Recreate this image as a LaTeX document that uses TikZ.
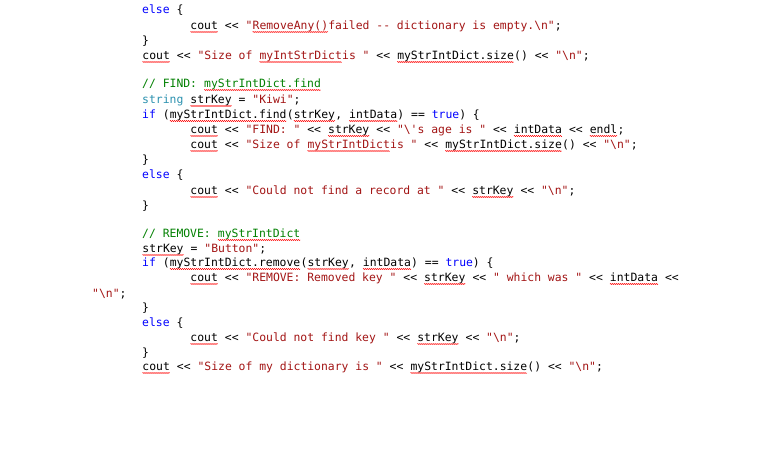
\documentclass[tikz,border=0pt]{standalone}
\usepackage{fontspec}
\setmonofont{DejaVu Sans Mono}
\usetikzlibrary{decorations.pathmorphing}
\definecolor{kwc}{RGB}{0,0,255}
\definecolor{stc}{RGB}{163,21,21}
\definecolor{cmc}{RGB}{0,128,0}
\definecolor{tyc}{RGB}{43,145,175}
\newcommand{\kw}[1]{\textcolor{kwc}{#1}}
\newcommand{\st}[1]{\textcolor{stc}{#1}}
\newcommand{\cm}[1]{\textcolor{cmc}{#1}}
\newcommand{\ty}[1]{\textcolor{tyc}{#1}}
\newcommand{\sq}[1]{\tikz[baseline=(s.base)]{\node[inner sep=0pt,outer sep=0pt](s){#1};\draw[red,line width=0.45pt,decorate,decoration={zigzag,amplitude=0.6pt,segment length=2pt}]([yshift=-3pt]s.base west)--([yshift=-3pt]s.base east);}}
\newcommand{\sqs}[1]{\sq{\st{#1}}}
\newcommand{\sqc}[1]{\sq{\cm{#1}}}
\newcommand{\bs}{\textbackslash}
\tikzset{ln/.style={anchor=base west,inner sep=0pt,font=\ttfamily\fontsize{11.4}{13}\selectfont}}
\begin{document}
\begin{tikzpicture}[x=1pt,y=-1pt]
\useasboundingbox[fill=white] (0,0) rectangle (762,450);
\node[ln] (l1) at (142,13) {\kw{else} \{};
\node[ln] (l2) at (190,29) {\sq{cout} << \st{"}\sqs{RemoveAny()}\st{ failed -- dictionary is empty.\bs n"};};
\node[ln] (l3) at (142,44) {\}};
\node[ln] (l4) at (142,59) {\sq{cout} << \st{"Size of }\sqs{myIntStrDict}\st{ is "} << \sq{myStrIntDict.size}() << \st{"\bs n"};};
\node[ln] (l5) at (142,87) {\cm{// FIND: }\sqc{myStrIntDict.find}};
\node[ln] (l6) at (142,103) {\ty{string} \sq{strKey} = \st{"Kiwi"};};
\node[ln] (l7) at (142,118) {\kw{if} (\sq{myStrIntDict.find}(\sq{strKey}, \sq{intData}) == \kw{true}) \{};
\node[ln] (l8) at (190,133) {\sq{cout} << \st{"FIND: "} << \sq{strKey} << \st{"\bs's age is "} << \sq{intData} << \sq{endl};};
\node[ln] (l9) at (190,148) {\sq{cout} << \st{"Size of }\sqs{myStrIntDict}\st{ is "} << \sq{myStrIntDict.size}() << \st{"\bs n"};};
\node[ln] (l10) at (142,163) {\}};
\node[ln] (l11) at (142,178) {\kw{else} \{};
\node[ln] (l12) at (190,194) {\sq{cout} << \st{"Could not find a record at "} << \sq{strKey} << \st{"\bs n"};};
\node[ln] (l13) at (142,209) {\}};
\node[ln] (l14) at (142,237) {\cm{// REMOVE: }\sqc{myStrIntDict}};
\node[ln] (l15) at (142,252) {\sq{strKey} = \st{"Button"};};
\node[ln] (l16) at (142,266) {\kw{if} (\sq{myStrIntDict.remove}(\sq{strKey}, \sq{intData}) == \kw{true}) \{};
\node[ln] (l17) at (190,281) {\sq{cout} << \st{"REMOVE: Removed key "} << \sq{strKey} << \st{" which was "} << \sq{intData} <<};
\node[ln] (l18) at (92,297) {\st{"\bs n"};};
\node[ln] (l19) at (142,311) {\}};
\node[ln] (l20) at (142,326) {\kw{else} \{};
\node[ln] (l21) at (190,341) {\sq{cout} << \st{"Could not find key "} << \sq{strKey} << \st{"\bs n"};};
\node[ln] (l22) at (142,356) {\}};
\node[ln] (l23) at (142,370) {\sq{cout} << \st{"Size of my dictionary is "} << \sq{myStrIntDict.size}() << \st{"\bs n"};};
\end{tikzpicture}
\end{document}
